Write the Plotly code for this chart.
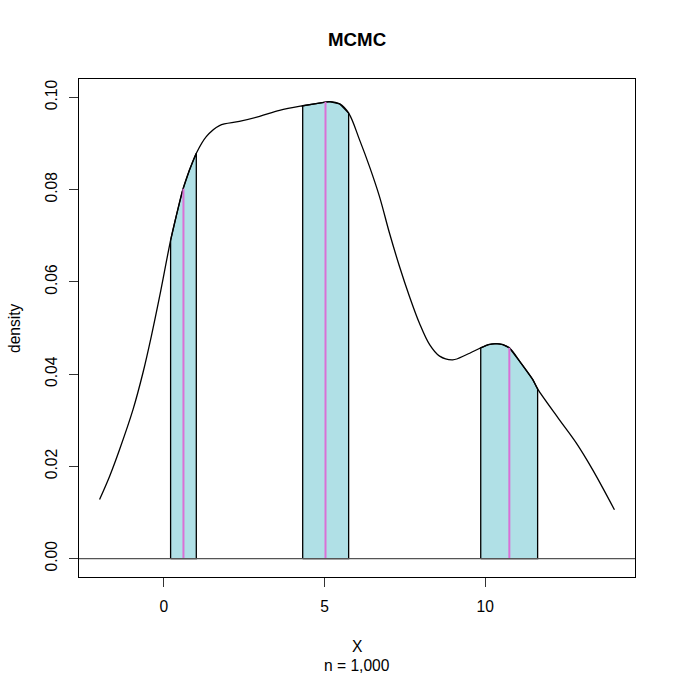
import plotly.graph_objects as go

# density curve
curve_x = [-2.0, -1.69, -1.38, -0.96, -0.65, -0.39, -0.13, 0.21, 0.40, 0.59, 0.80, 1.01,
           1.32, 1.73, 2.35, 2.98, 3.60, 4.32, 5.03, 5.15, 5.47, 5.75, 6.09, 6.40, 6.71,
           7.02, 7.33, 7.64, 7.95, 8.27, 8.58, 8.99, 9.41, 9.86, 10.10, 10.34, 10.55,
           10.75, 11.10, 11.48, 11.63, 12.31, 12.83, 13.34, 14.02]
curve_y = [0.0128, 0.0178, 0.0236, 0.0323, 0.0403, 0.0482, 0.0569, 0.0690, 0.0747, 0.0800,
           0.0843, 0.0879, 0.0915, 0.0939, 0.0948, 0.0959, 0.0972, 0.0982, 0.0990, 0.0991,
           0.0986, 0.0966, 0.0908, 0.0850, 0.0785, 0.0706, 0.0634, 0.0569, 0.0511, 0.0464,
           0.0439, 0.0431, 0.0442, 0.0457, 0.0464, 0.0466, 0.0464, 0.0457, 0.0425, 0.0388,
           0.0368, 0.0301, 0.0251, 0.0193, 0.0106]

# shaded intervals and modes
hpd_lo = [0.21, 4.32, 9.86]
hpd_hi = [1.01, 5.75, 11.63]
hpd_lo_y = [0.0690, 0.0982, 0.0457]
hpd_hi_y = [0.0879, 0.0966, 0.0368]
modes = [0.61, 5.03, 10.75]
mode_y = [0.0802, 0.0990, 0.0457]

x_ticks = [0, 5, 10]
y_ticks = [0.00, 0.02, 0.04, 0.06, 0.08, 0.10]

FONT = "Liberation Sans, Arial, sans-serif"
SZ = 15.6

fig = go.Figure()

for lo, hi, ylo, yhi in zip(hpd_lo, hpd_hi, hpd_lo_y, hpd_hi_y):
    px = [lo, lo]
    py = [0, ylo]
    for cx, cy in zip(curve_x, curve_y):
        if lo < cx < hi:
            px.append(cx)
            py.append(cy)
    px += [hi, hi, lo]
    py += [yhi, 0, 0]
    fig.add_trace(go.Scatter(x=px, y=py, mode="lines", fill="toself",
                             fillcolor="#B0E0E6", line=dict(color="black", width=1.3),
                             hoverinfo="skip"))

fig.add_trace(go.Scatter(x=curve_x, y=curve_y, mode="lines",
                         line=dict(color="black", width=1.3, shape="spline", smoothing=1)))

for m, my in zip(modes, mode_y):
    fig.add_trace(go.Scatter(x=[m, m], y=[0, my], mode="lines",
                             line=dict(color="#DA70D6", width=2)))

fig.add_shape(type="line", xref="paper", x0=0, x1=1, yref="y", y0=0, y1=0,
              line=dict(color="#555555", width=1.3))

fig.update_layout(
    width=676, height=676,
    margin=dict(l=79, r=41, t=79, b=99),
    paper_bgcolor="white", plot_bgcolor="white",
    showlegend=False,
    font=dict(family=FONT, size=SZ, color="black"),
    xaxis=dict(range=[-2.64, 14.66], tickvals=x_ticks, ticktext=[str(v) for v in x_ticks],
               showgrid=False, zeroline=False, showline=True, mirror=True,
               linecolor="black", linewidth=1.3, ticks="outside", ticklen=9,
               tickwidth=1.3, tickcolor="#333", tickfont=dict(size=SZ),
               ticklabelstandoff=6),
    yaxis=dict(range=[-0.004, 0.104], tickvals=y_ticks,
               ticktext=["%.2f" % v for v in y_ticks], tickangle=-90,
               showgrid=False, zeroline=False, showline=True, mirror=True,
               linecolor="black", linewidth=1.3, ticks="outside", ticklen=9,
               tickwidth=1.3, tickcolor="#333", tickfont=dict(size=SZ),
               ticklabelstandoff=6),
    annotations=[
        dict(text="<b>MCMC</b>", xref="paper", yref="paper", x=0.5, y=1, yshift=40,
             yanchor="middle", showarrow=False, font=dict(size=18.7)),
        dict(text="X", xref="paper", yref="paper", x=0.5, y=0, yshift=-69,
             yanchor="middle", showarrow=False),
        dict(text="n = 1,000", xref="paper", yref="paper", x=0.5, y=0, yshift=-88,
             yanchor="middle", showarrow=False),
        dict(text="density", xref="paper", yref="paper", x=0, y=0.5, xshift=-65,
             xanchor="center", textangle=-90, showarrow=False),
    ],
)

# drop the page's default body margin so the figure sits at the window corner
fig.write_html("out.html", config={"displayModeBar": False},
               post_script="document.body.style.margin='0';")
